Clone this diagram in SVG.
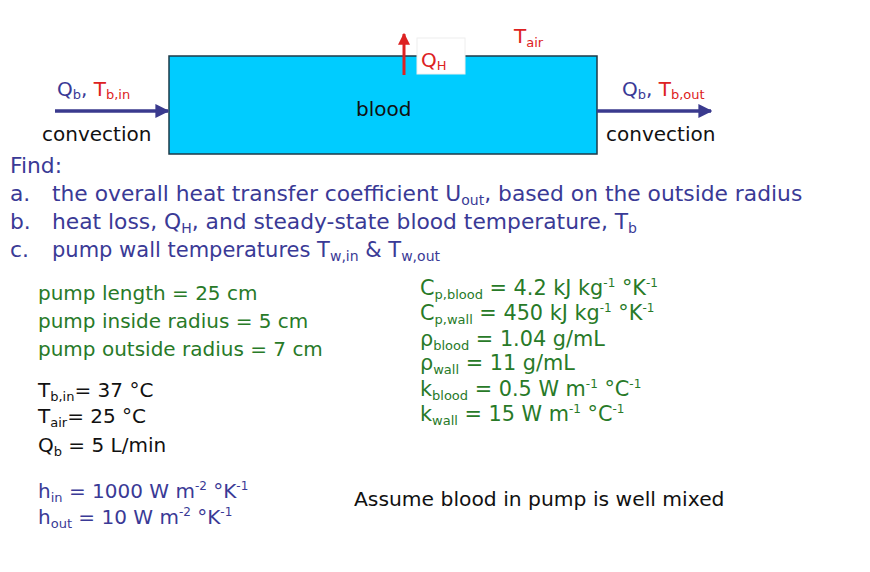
<svg xmlns="http://www.w3.org/2000/svg" width="870" height="572" viewBox="0 0 870 572">
<defs>
<style>
text{font-family:"DejaVu Sans","Liberation Sans",sans-serif;font-size:20px}
.bl{fill:#3a3a96}.rd{fill:#dd2222}.gr{fill:#287a28}.bk{fill:#111}
.s{font-size:13px}
.u{font-size:12px}
.f{font-size:21.8px}
.f .s{font-size:14px}
.p{font-size:20.8px}
</style>
<marker id="ab" viewBox="0 0 10 10" refX="9" refY="5" markerWidth="4" markerHeight="4" orient="auto"><path d="M0,0L10,5L0,10z" fill="#3a3a8e"/></marker>
<marker id="ar" viewBox="0 0 10 10" refX="9" refY="5" markerWidth="4" markerHeight="4" orient="auto"><path d="M0,0L10,5L0,10z" fill="#dd2222"/></marker>
</defs>
<rect width="870" height="572" fill="#fff"/>
<g id="pump">
<rect x="169" y="56" width="428" height="98" fill="#00ccff" stroke="#1d3a48" stroke-width="1.5"/>
<text class="bk" x="356" y="116">blood</text>
</g>
<g id="connectors">
<line x1="55" y1="111" x2="168" y2="111" stroke="#3a3a8e" stroke-width="3.5" marker-end="url(#ab)"/>
<line x1="597" y1="111" x2="711" y2="111" stroke="#3a3a8e" stroke-width="3.5" marker-end="url(#ab)"/>
<line x1="404" y1="75" x2="404" y2="34" stroke="#dd2222" stroke-width="3" marker-end="url(#ar)"/>
</g>
<g id="qh">
<rect x="417" y="38" width="48" height="36" fill="#fff" stroke="#eeeeee"/>
<text class="rd" x="421" y="67">Q<tspan class="s" dy="3">H</tspan></text>
</g>
<g id="tair"><text class="rd" x="514" y="43">T<tspan class="s" dy="4">air</tspan></text></g>
<g id="inlet">
<text x="57" y="96"><tspan class="bl">Q</tspan><tspan class="bl s" dy="3">b</tspan><tspan class="bl" dy="-3">, </tspan><tspan class="rd">T</tspan><tspan class="rd s" dy="3">b,in</tspan></text>
<text class="bk" x="42" y="141">convection</text>
</g>
<g id="outlet">
<text x="622" y="96"><tspan class="bl">Q</tspan><tspan class="bl s" dy="3">b</tspan><tspan class="bl" dy="-3">, </tspan><tspan class="rd">T</tspan><tspan class="rd s" dy="3">b,out</tspan></text>
<text class="bk" x="606" y="141">convection</text>
</g>
<g id="find" class="f">
<text class="bl f" x="10" y="173">Find:</text>
<text class="bl f" x="10" y="201">a.</text>
<text class="bl f" x="52" y="201">the overall heat transfer coefficient U<tspan class="s" dy="4">out</tspan><tspan dy="-4">, based on the outside radius</tspan></text>
<text class="bl f" x="10" y="229">b.</text>
<text class="bl f" x="52" y="229">heat loss, Q<tspan class="s" dy="4">H</tspan><tspan dy="-4">, and steady-state blood temperature, T</tspan><tspan class="s" dy="4">b</tspan></text>
<text class="bl f" x="10" y="257">c.</text>
<text class="bl f" x="52" y="257" style="font-size:21px">pump wall temperatures T<tspan class="s" dy="4">w,in</tspan><tspan dy="-4"> &amp; T</tspan><tspan class="s" dy="4">w,out</tspan></text>
</g>
<g id="geometry">
<text class="gr" x="38" y="300">pump length = 25 cm</text>
<text class="gr" x="38" y="328">pump inside radius = 5 cm</text>
<text class="gr" x="38" y="356">pump outside radius = 7 cm</text>
</g>
<g id="conditions">
<text class="bk" x="38" y="397">T<tspan class="s" dy="4">b,in</tspan><tspan dy="-4">= 37 °C</tspan></text>
<text class="bk" x="38" y="423">T<tspan class="s" dy="4">air</tspan><tspan dy="-4">= 25 °C</tspan></text>
<text class="bk" x="38" y="452">Q<tspan class="s" dy="4">b</tspan><tspan dy="-4"> = 5 L/min</tspan></text>
</g>
<g id="properties">
<text class="gr p" x="420" y="295">C<tspan class="s" dy="4">p,blood</tspan><tspan dy="-4"> = 4.2 kJ kg</tspan><tspan class="u" dy="-8">-1</tspan><tspan dy="8"> °K</tspan><tspan class="u" dy="-8">-1</tspan></text>
<text class="gr p" x="420" y="320">C<tspan class="s" dy="4">p,wall</tspan><tspan dy="-4"> = 450 kJ kg</tspan><tspan class="u" dy="-8">-1</tspan><tspan dy="8"> °K</tspan><tspan class="u" dy="-8">-1</tspan></text>
<text class="gr p" x="420" y="346">ρ<tspan class="s" dy="4">blood</tspan><tspan dy="-4"> = 1.04 g/mL</tspan></text>
<text class="gr p" x="420" y="370">ρ<tspan class="s" dy="4">wall</tspan><tspan dy="-4"> = 11 g/mL</tspan></text>
<text class="gr p" x="420" y="396">k<tspan class="s" dy="4">blood</tspan><tspan dy="-4"> = 0.5 W m</tspan><tspan class="u" dy="-8">-1</tspan><tspan dy="8"> °C</tspan><tspan class="u" dy="-8">-1</tspan></text>
<text class="gr p" x="420" y="421">k<tspan class="s" dy="4">wall</tspan><tspan dy="-4"> = 15 W m</tspan><tspan class="u" dy="-8">-1</tspan><tspan dy="8"> °C</tspan><tspan class="u" dy="-8">-1</tspan></text>
</g>
<g id="coefficients">
<text class="bl" x="38" y="498">h<tspan class="s" dy="4">in</tspan><tspan dy="-4"> = 1000 W m</tspan><tspan class="u" dy="-8">-2</tspan><tspan dy="8"> °K</tspan><tspan class="u" dy="-8">-1</tspan></text>
<text class="bl" x="38" y="524">h<tspan class="s" dy="4">out</tspan><tspan dy="-4"> = 10 W m</tspan><tspan class="u" dy="-8">-2</tspan><tspan dy="8"> °K</tspan><tspan class="u" dy="-8">-1</tspan></text>
</g>
<g id="note"><text class="bk" x="354" y="506" style="font-size:20.3px">Assume blood in pump is well mixed</text></g>
</svg>
